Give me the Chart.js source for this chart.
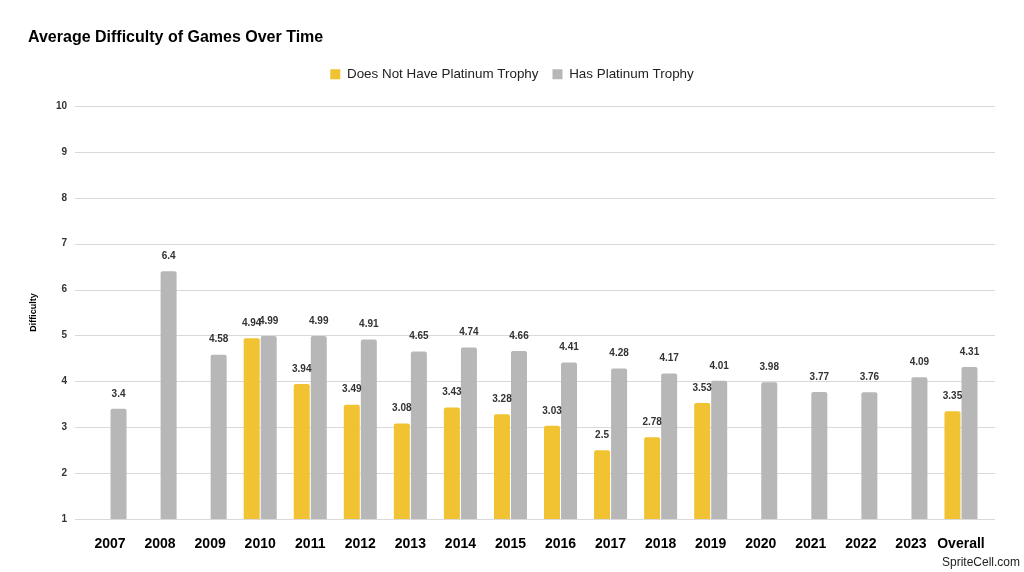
<!DOCTYPE html>
<html>
<head>
<meta charset="utf-8">
<script src="https://cdn.jsdelivr.net/npm/chart.js@4"></script>
<style>
    html, body { margin: 0; padding: 0; background: #fff; }
    #wrap { width: 1024px; height: 572px; position: relative; }
</style>
</head>
<body>
<div id="wrap"><canvas id="chart" width="1024" height="572"></canvas></div>
<script>
// Chart data
const years = ['2007', '2008', '2009', '2010', '2011', '2012', '2013', '2014', '2015',
    '2016', '2017', '2018', '2019', '2020', '2021', '2022', '2023', 'Overall'];
const noPlatinum = [null, null, null, 4.94, 3.94, 3.49, 3.08, 3.43, 3.28,
    3.03, 2.5, 2.78, 3.53, null, null, null, null, 3.35];
const hasPlatinum = [3.4, 6.4, 4.58, 4.99, 4.99, 4.91, 4.65, 4.74, 4.66,
    4.41, 4.28, 4.17, 4.01, 3.98, 3.77, 3.76, 4.09, 4.31];
const yTicks = [1, 2, 3, 4, 5, 6, 7, 8, 9, 10];

const FONT = "'Liberation Sans', Arial, sans-serif";

// Fix the legend height so the plot starts at the right place,
// and nudge it so it is centred on the page
const legendHeight = {
    id: 'legendHeight',
    beforeInit(chart) {
        const fit = chart.legend.fit;
        chart.legend.fit = function () {
            fit.bind(chart.legend)();
            this.height = 52.5;
        };
        const draw = chart.legend.draw;
        chart.legend.draw = function () {
            const ctx = chart.ctx;
            ctx.save();
            ctx.translate(5, 0);
            draw.bind(chart.legend)();
            ctx.restore();
        };
    }
};

// Horizontal grid lines, a bit wider than the plot area
const wideGrid = {
    id: 'wideGrid',
    beforeDatasetsDraw(chart) {
        const y = chart.scales.y;
        const ctx = chart.ctx;
        ctx.save();
        ctx.strokeStyle = '#d9d9d9';
        ctx.lineWidth = 1;
        yTicks.forEach(v => {
            const py = Math.round(y.getPixelForValue(v)) + 0.5;
            ctx.beginPath();
            ctx.moveTo(75, py);
            ctx.lineTo(995, py);
            ctx.stroke();
        });
        ctx.restore();
    }
};

// Value labels over bars + footer text
const valueLabels = {
    id: 'valueLabels',
    afterDatasetsDraw(chart) {
        const ctx = chart.ctx;
        ctx.save();
        ctx.font = 'bold 10px ' + FONT;
        ctx.fillStyle = '#333333';
        ctx.textAlign = 'center';
        ctx.textBaseline = 'middle';
        chart.data.datasets.forEach((ds, di) => {
            const meta = chart.getDatasetMeta(di);
            meta.data.forEach((bar, i) => {
                const v = ds.data[i];
                if (v === null || v === undefined) return;
                ctx.fillText(String(v), bar.x, bar.y - 15);
            });
        });
        ctx.font = '12px ' + FONT;
        ctx.fillStyle = '#222222';
        ctx.textAlign = 'right';
        ctx.fillText('SpriteCell.com', 1020, 563);
        ctx.restore();
    }
};

new Chart(document.getElementById('chart').getContext('2d'), {
    type: 'bar',
    data: {
        labels: years,
        datasets: [
            {
                label: 'Does Not Have Platinum Trophy',
                data: noPlatinum,
                backgroundColor: '#f1c232',
                borderRadius: 2,
                borderSkipped: 'bottom',
                categoryPercentage: 0.68,
                barPercentage: 0.94
            },
            {
                label: 'Has Platinum Trophy',
                data: hasPlatinum,
                backgroundColor: '#b7b7b7',
                borderRadius: 2,
                borderSkipped: 'bottom',
                categoryPercentage: 0.68,
                barPercentage: 0.94
            }
        ]
    },
    options: {
        responsive: false,
        animation: false,
        layout: { padding: { left: 28, right: 38, top: 0, bottom: 23 } },
        plugins: {
            title: {
                display: true,
                text: 'Average Difficulty of Games Over Time',
                align: 'start',
                color: '#000000',
                font: { family: FONT, size: 16, weight: 'bold' },
                padding: { top: 28, bottom: 6.3 }
            },
            legend: {
                position: 'top',
                labels: {
                    boxWidth: 10,
                    boxHeight: 10,
                    padding: 14,
                    color: '#222222',
                    font: { family: FONT, size: 13.4 }
                }
            },
            tooltip: { enabled: false }
        },
        scales: {
            x: {
                grid: { display: false },
                border: { display: false },
                ticks: {
                    color: '#000000',
                    padding: 9,
                    font: { family: FONT, size: 14, weight: 'bold' },
                    maxRotation: 0,
                    autoSkip: false
                },
                afterFit(scale) { scale.height = 30; }
            },
            y: {
                min: 1,
                max: 10,
                grid: { display: false, drawTicks: false },
                border: { display: false },
                ticks: {
                    stepSize: 1,
                    color: '#333333',
                    padding: 18,
                    font: { family: FONT, size: 10, weight: 'bold' }
                },
                title: {
                    display: true,
                    text: 'Difficulty',
                    color: '#000000',
                    padding: 0,
                    font: { family: FONT, size: 9, weight: 'bold' }
                },
                afterFit(scale) { scale.width = 57; }
            }
        }
    },
    plugins: [legendHeight, wideGrid, valueLabels]
});
</script>
</body>
</html>
